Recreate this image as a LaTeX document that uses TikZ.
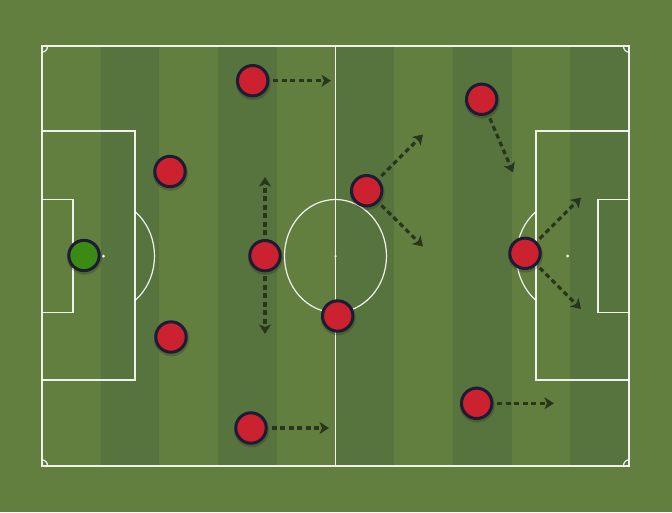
\documentclass[tikz,border=0pt]{standalone}
\usetikzlibrary{arrows.meta}
\definecolor{bggreen}{RGB}{98,127,64}
\definecolor{darkstripe}{RGB}{88,116,62}
\definecolor{redp}{RGB}{204,34,48}
\definecolor{navyb}{RGB}{28,28,52}
\definecolor{gkgreen}{RGB}{58,138,20}
\definecolor{arrowc}{RGB}{40,54,28}
\tikzset{
  pline/.style={draw=white, line width=1.2pt, draw opacity=0.9},
  player/.style={circle, minimum size=30.4pt, inner sep=0pt, line width=3pt, draw=navyb, fill=redp},
  keeper/.style={player, fill=gkgreen},
  run/.style={draw=arrowc, line width=3.2pt, dash pattern=on 5pt off 3.5pt, shorten <=4pt,
    -{Stealth[length=9.5pt,width=12pt,inset=2.5pt]}},
  spot/.style={circle, fill=white, inner sep=0pt, minimum size=3pt}
}
\begin{document}
\begin{tikzpicture}[x=1pt,y=-1pt]
\fill[bggreen] (0,0) rectangle (672,512);
\useasboundingbox (0,0) rectangle (672,512);
% stripes
\foreach \i in {1,3,5,7,9} {
  \fill[darkstripe] ({42+\i*58.7},46) rectangle ({42+(\i+1)*58.7},466);
}
% pitch lines
\draw[pline] (42,46) rectangle (629,466);
\draw[pline] (335.5,46) -- (335.5,466);
\draw[pline] (335.5,256) ellipse [x radius=51pt, y radius=56.5pt];
% left boxes
\draw[pline] (42,131) -- (135,131) -- (135,380) -- (42,380);
\draw[pline] (42,199.5) -- (73,199.5) -- (73,312.5) -- (42,312.5);
% right boxes
\draw[pline] (629,131) -- (536,131) -- (536,380) -- (629,380);
\draw[pline] (629,199.5) -- (598,199.5) -- (598,312.5) -- (629,312.5);
% penalty arcs
\begin{scope}
  \clip (135,150) rectangle (200,360);
  \draw[pline] (103.5,256) ellipse [x radius=51pt, y radius=56.5pt];
\end{scope}
\begin{scope}
  \clip (470,150) rectangle (536,360);
  \draw[pline] (567.5,256) ellipse [x radius=51pt, y radius=56.5pt];
\end{scope}
% corner arcs
\begin{scope}
  \clip (42,46) rectangle (629,466);
  \foreach \cx/\cy in {42/46, 629/46, 42/466, 629/466} {
    \draw[pline] (\cx,\cy) ellipse [x radius=5.6pt, y radius=6.2pt];
  }
\end{scope}
% spots
\node[spot] (s1) at (103.5,256) {};
\node[spot] (s2) at (567.5,256) {};
\node[spot, minimum size=2.5pt] (s0) at (335.5,256) {};
% shadows
\foreach \x/\y in {84/255.5, 170/171.5, 252.7/80.7, 265/255.7, 171/337, 251/428, 337.7/316, 366.7/190.7, 481.7/99.3, 525/253.3, 476.7/403.3} {
  \fill[black, opacity=0.18] (\x+0.5,\y+1.8) circle [radius=17.5pt];
}
% players
\node[keeper] (gk) at (84,255.5) {};
\node[player] (p1) at (170,171.5) {};
\node[player] (p2) at (171,337) {};
\node[player] (p3) at (252.7,80.7) {};
\node[player] (p4) at (265,255.7) {};
\node[player] (p5) at (251,428) {};
\node[player] (p6) at (337.7,316) {};
\node[player] (p7) at (366.7,190.7) {};
\node[player] (p8) at (481.7,99.3) {};
\node[player] (p9) at (525,253.3) {};
\node[player] (p10) at (476.7,403.3) {};
% run targets
\coordinate (t3) at (331,80.7);
\coordinate (t4a) at (265,177);
\coordinate (t4b) at (265,334);
\coordinate (t5) at (329,428);
\coordinate (t7a) at (423,134.5);
\coordinate (t7b) at (423,246.5);
\coordinate (t8) at (513,172.5);
\coordinate (t9a) at (581,197.5);
\coordinate (t9b) at (581,309);
\coordinate (t10) at (554,403.3);
% runs
\draw[run] (p3) -- (t3);
\draw[run] (p4) -- (t4a);
\draw[run] (p4) -- (t4b);
\draw[run] (p5) -- (t5);
\draw[run] (p7) -- (t7a);
\draw[run] (p7) -- (t7b);
\draw[run] (p8) -- (t8);
\draw[run] (p9) -- (t9a);
\draw[run] (p9) -- (t9b);
\draw[run] (p10) -- (t10);
\end{tikzpicture}
\end{document}
